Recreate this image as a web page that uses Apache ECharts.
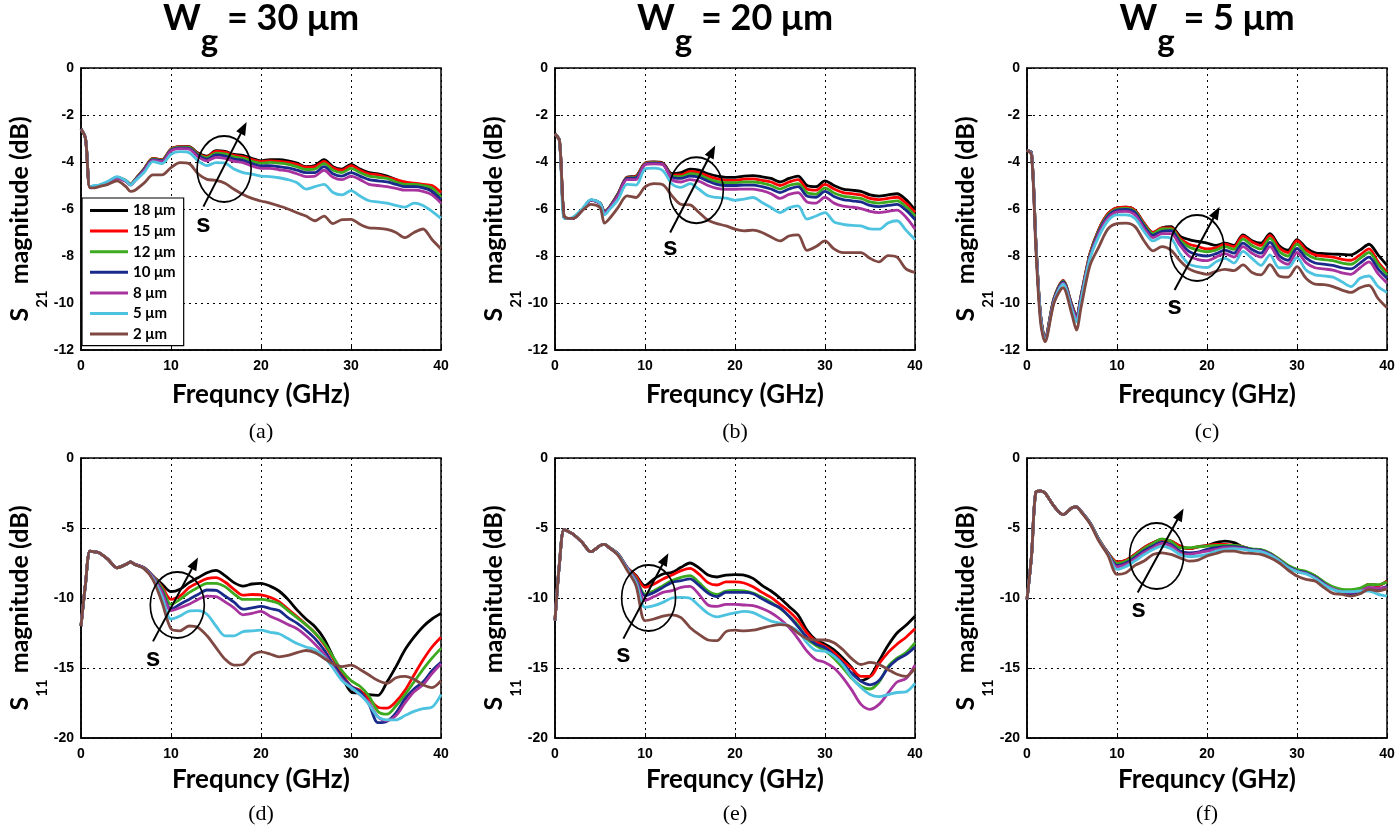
<!DOCTYPE html>
<html>
<head>
<meta charset="utf-8">
<title>S21 / S11 magnitude vs frequency</title>
<script src="https://cdn.jsdelivr.net/npm/echarts@6/dist/echarts.min.js"></script>
<style>
  html, body { margin: 0; padding: 0; background: #fff; }
  #chart { width: 1400px; height: 837px; }
</style>
</head>
<body>
<div id="chart"></div>
<script>
// frequency samples (GHz), shared by every curve
const FREQ = [0, 0.5, 1, 1.5, 2, 3, 4, 5, 5.5,
  6, 7, 8, 9, 10, 11, 12, 13, 14, 15,
  16, 17, 18, 19, 20, 21, 22, 23, 24, 25,
  26, 27, 28, 29, 30, 31, 32, 33, 34, 35,
  36, 37, 38, 39, 40];

const SPACINGS = ['18 μm', '15 μm', '12 μm', '10 μm', '8 μm', '5 μm', '2 μm'];
const COLORS = ['#000000', '#ff0000', '#3caa1e', '#1a2a8c', '#a8329e', '#4ec3e0', '#7f4842'];

const WG_TITLES = ['30 μm', '20 μm', '5 μm'];
const CAPTIONS = ['(a)', '(b)', '(c)', '(d)', '(e)', '(f)'];
const X_TICKS = [0, 10, 20, 30, 40];
const S21_TICKS = [-12, -10, -8, -6, -4, -2, 0];
const S11_TICKS = [-20, -15, -10, -5, 0];

// (a) S21, Wg = 30 μm
const a18 = [-2.6, -3.0, -5.05, -5.05, -5.0, -4.85, -4.65, -4.8, -4.95,
  -4.75, -4.3, -3.85, -3.9, -3.45, -3.35, -3.35, -3.62, -3.75, -3.52,
  -3.55, -3.68, -3.72, -3.85, -3.95, -3.9, -3.9, -3.95, -4.05, -4.2,
  -4.15, -3.9, -4.2, -4.3, -4.1, -4.3, -4.45, -4.5, -4.6, -4.75,
  -4.95, -4.95, -5.0, -5.25, -5.65];
const a15 = [-2.6, -3.0, -5.05, -5.05, -5.0, -4.85, -4.65, -4.8, -4.95,
  -4.75, -4.3, -3.85, -3.9, -3.45, -3.35, -3.36, -3.65, -3.78, -3.55,
  -3.58, -3.72, -3.78, -3.9, -3.98, -3.95, -3.97, -4.02, -4.1, -4.22,
  -4.2, -3.97, -4.25, -4.35, -4.15, -4.35, -4.5, -4.55, -4.65, -4.75,
  -4.85, -4.9, -4.95, -5.0, -5.3];
const a12 = [-2.6, -3.0, -5.05, -5.05, -5.0, -4.85, -4.66, -4.8, -4.95,
  -4.76, -4.32, -3.87, -3.92, -3.47, -3.37, -3.38, -3.68, -3.82, -3.62,
  -3.65, -3.78, -3.84, -3.97, -4.05, -4.02, -4.05, -4.1, -4.2, -4.32,
  -4.3, -4.07, -4.35, -4.45, -4.27, -4.45, -4.6, -4.65, -4.7, -4.85,
  -4.95, -4.95, -5.0, -5.1, -5.5];
const a10 = [-2.6, -3.0, -5.06, -5.06, -5.0, -4.86, -4.67, -4.82, -4.97,
  -4.78, -4.34, -3.9, -3.95, -3.5, -3.4, -3.42, -3.72, -3.88, -3.7,
  -3.75, -3.88, -3.93, -4.07, -4.17, -4.15, -4.2, -4.25, -4.35, -4.45,
  -4.45, -4.2, -4.5, -4.6, -4.45, -4.6, -4.75, -4.8, -4.85, -4.95,
  -5.05, -5.05, -5.1, -5.25, -5.6];
const a8 = [-2.6, -3.0, -5.07, -5.07, -5.01, -4.87, -4.68, -4.83, -4.98,
  -4.8, -4.37, -3.93, -3.98, -3.53, -3.43, -3.45, -3.78, -3.95, -3.8,
  -3.85, -3.97, -4.03, -4.17, -4.27, -4.27, -4.33, -4.38, -4.5, -4.62,
  -4.6, -4.35, -4.65, -4.75, -4.6, -4.75, -4.95, -5.0, -5.05, -5.12,
  -5.2, -5.2, -5.25, -5.4, -5.75];
const a5 = [-2.6, -3.0, -5.05, -5.0, -4.98, -4.82, -4.62, -4.8, -4.98,
  -4.8, -4.45, -3.98, -4.07, -3.67, -3.56, -3.6, -3.95, -4.15, -4.03,
  -4.05, -4.3, -4.45, -4.52, -4.6, -4.62, -4.67, -4.75, -4.88, -5.15,
  -5.05, -4.95, -5.3, -5.4, -5.22, -5.45, -5.65, -5.7, -5.75, -5.85,
  -5.92, -5.75, -5.85, -6.1, -6.4];
const a2 = [-2.6, -3.0, -5.1, -5.1, -5.05, -4.95, -4.8, -5.05, -5.25,
  -5.2, -4.9, -4.55, -4.55, -4.24, -4.03, -4.07, -4.5, -4.74, -4.78,
  -4.9, -5.16, -5.38, -5.55, -5.66, -5.75, -5.87, -6.0, -6.16, -6.3,
  -6.5, -6.3, -6.62, -6.45, -6.44, -6.65, -6.8, -6.82, -6.87, -7.0,
  -7.22, -7.0, -6.85, -7.3, -7.7];

// (b) S21, Wg = 20 μm
const b18 = [-2.8, -3.1, -6.35, -6.4, -6.4, -6.05, -5.62, -5.75, -6.1,
  -5.95, -5.35, -4.65, -4.6, -4.05, -4.0, -4.05, -4.5, -4.45, -4.3,
  -4.35, -4.5, -4.6, -4.65, -4.65, -4.6, -4.58, -4.63, -4.7, -4.85,
  -4.7, -4.6, -5.0, -5.05, -4.8, -5.0, -5.15, -5.2, -5.25, -5.4,
  -5.45, -5.4, -5.35, -5.6, -6.05];
const b15 = [-2.8, -3.1, -6.35, -6.4, -6.4, -6.05, -5.62, -5.75, -6.1,
  -5.95, -5.36, -4.66, -4.62, -4.06, -4.01, -4.07, -4.55, -4.55, -4.4,
  -4.45, -4.6, -4.72, -4.78, -4.78, -4.73, -4.72, -4.78, -4.85, -5.0,
  -4.85, -4.75, -5.15, -5.2, -4.95, -5.15, -5.3, -5.35, -5.4, -5.55,
  -5.6, -5.55, -5.5, -5.75, -6.15];
const b12 = [-2.8, -3.1, -6.35, -6.4, -6.4, -6.05, -5.62, -5.75, -6.1,
  -5.96, -5.38, -4.68, -4.65, -4.08, -4.03, -4.09, -4.6, -4.62, -4.5,
  -4.55, -4.72, -4.83, -4.88, -4.88, -4.85, -4.85, -4.9, -5.0, -5.15,
  -5.0, -4.92, -5.3, -5.37, -5.1, -5.32, -5.45, -5.5, -5.55, -5.7,
  -5.75, -5.7, -5.65, -5.9, -6.3];
const b10 = [-2.8, -3.1, -6.35, -6.4, -6.4, -6.05, -5.62, -5.76, -6.12,
  -5.97, -5.4, -4.7, -4.68, -4.1, -4.05, -4.1, -4.65, -4.7, -4.6,
  -4.65, -4.82, -4.95, -5.0, -5.0, -4.98, -4.98, -5.05, -5.15, -5.3,
  -5.15, -5.05, -5.45, -5.5, -5.25, -5.47, -5.6, -5.65, -5.7, -5.85,
  -5.9, -5.85, -5.8, -6.05, -6.45];
const b8 = [-2.8, -3.1, -6.36, -6.4, -6.4, -6.05, -5.63, -5.77, -6.15,
  -6.0, -5.45, -4.75, -4.75, -4.12, -4.08, -4.12, -4.75, -4.85, -4.75,
  -4.82, -5.0, -5.12, -5.16, -5.16, -5.15, -5.15, -5.22, -5.35, -5.55,
  -5.38, -5.3, -5.7, -5.75, -5.5, -5.75, -5.88, -5.92, -5.98, -6.1,
  -6.15, -6.1, -6.05, -6.35, -6.85];
const b5 = [-2.8, -3.1, -6.4, -6.4, -6.35, -6.0, -5.6, -5.75, -6.25,
  -6.05, -5.6, -4.95, -4.98, -4.3, -4.26, -4.37, -4.94, -5.08, -4.92,
  -5.16, -5.44, -5.51, -5.54, -5.63, -5.58, -5.51, -5.72, -5.94, -6.15,
  -5.95, -5.87, -6.43, -6.3, -6.15, -6.55, -6.65, -6.7, -6.72, -6.85,
  -6.86, -6.6, -6.5, -6.9, -7.3];
const b2 = [-2.8, -3.1, -6.3, -6.4, -6.4, -6.08, -5.8, -5.94, -6.6,
  -6.43, -5.94, -5.44, -5.51, -5.06, -4.92, -4.97, -5.44, -5.8, -5.82,
  -6.15, -6.48, -6.62, -6.72, -6.86, -6.93, -6.9, -7.0, -7.19, -7.36,
  -7.15, -7.1, -7.76, -7.6, -7.36, -7.7, -7.86, -7.86, -7.86, -8.1,
  -8.25, -7.98, -8.05, -8.55, -8.7];

// (c) S21, Wg = 5 μm
const c18 = [-3.5, -3.6, -7.5, -10.5, -11.5, -9.8, -9.05, -10.1, -10.55,
  -9.7, -7.9, -6.85, -6.2, -5.95, -5.92, -6.05, -6.6, -7.0, -6.8,
  -6.75, -7.15, -7.3, -7.38, -7.45, -7.55, -7.45, -7.55, -7.1, -7.35,
  -7.45, -7.05, -7.55, -7.75, -7.3, -7.65, -7.86, -7.9, -7.92, -7.93,
  -7.95, -7.75, -7.5, -7.95, -8.4];
const c15 = [-3.5, -3.6, -7.5, -10.5, -11.5, -9.8, -9.05, -10.1, -10.55,
  -9.7, -7.9, -6.85, -6.2, -5.95, -5.92, -6.05, -6.6, -7.0, -6.8,
  -6.8, -7.25, -7.5, -7.6, -7.7, -7.65, -7.5, -7.6, -7.15, -7.4,
  -7.55, -7.12, -7.65, -7.85, -7.35, -7.75, -7.95, -8.0, -8.05, -8.14,
  -8.18, -7.95, -7.7, -8.25, -8.7];
const c12 = [-3.5, -3.6, -7.5, -10.5, -11.5, -9.82, -9.07, -10.12, -10.57,
  -9.72, -7.95, -6.9, -6.25, -6.0, -5.97, -6.1, -6.65, -7.05, -6.85,
  -6.85, -7.32, -7.62, -7.75, -7.82, -7.75, -7.6, -7.72, -7.28, -7.55,
  -7.7, -7.25, -7.8, -8.0, -7.5, -7.9, -8.1, -8.15, -8.2, -8.3,
  -8.35, -8.1, -7.85, -8.35, -8.8];
const c10 = [-3.5, -3.6, -7.52, -10.52, -11.52, -9.85, -9.1, -10.15, -10.6,
  -9.75, -8.0, -6.95, -6.3, -6.05, -6.02, -6.15, -6.72, -7.12, -6.95,
  -6.92, -7.42, -7.8, -7.95, -8.0, -7.9, -7.75, -7.88, -7.45, -7.72,
  -7.88, -7.42, -7.98, -8.18, -7.68, -8.08, -8.3, -8.35, -8.4, -8.5,
  -8.55, -8.3, -8.05, -8.55, -8.95];
const c8 = [-3.5, -3.62, -7.55, -10.55, -11.55, -9.9, -9.15, -10.2, -10.65,
  -9.8, -8.05, -7.02, -6.38, -6.12, -6.1, -6.25, -6.82, -7.22, -7.05,
  -7.05, -7.55, -8.0, -8.15, -8.2, -8.05, -7.9, -8.05, -7.6, -7.88,
  -8.05, -7.6, -8.15, -8.35, -7.85, -8.28, -8.5, -8.55, -8.6, -8.72,
  -8.78, -8.5, -8.25, -8.75, -9.15];
const c5 = [-3.5, -3.65, -7.6, -10.6, -11.6, -9.95, -9.2, -10.3, -10.8,
  -9.9, -8.1, -7.15, -6.5, -6.25, -6.25, -6.4, -6.95, -7.36, -7.2,
  -7.25, -7.9, -8.35, -8.45, -8.49, -8.25, -8.1, -8.3, -7.8, -8.1,
  -8.4, -7.95, -8.5, -8.5, -8.07, -8.6, -8.8, -8.85, -8.9, -9.1,
  -9.3, -8.95, -8.85, -9.3, -9.55];
const c2 = [-3.5, -3.7, -7.8, -10.8, -11.65, -10.0, -9.35, -10.5, -11.15,
  -10.2, -8.4, -7.6, -6.85, -6.62, -6.6, -6.75, -7.35, -7.78, -7.6,
  -7.75, -8.2, -8.55, -8.7, -8.78, -8.65, -8.57, -8.62, -8.38, -8.7,
  -8.8, -8.37, -8.85, -8.9, -8.45, -8.95, -9.2, -9.22, -9.3, -9.45,
  -9.55, -9.35, -9.25, -9.8, -10.2];

// (d) S11, Wg = 30 μm
const d18 = [-12.0, -9.0, -6.65, -6.7, -6.77, -7.24, -7.84, -7.6, -7.43,
  -7.6, -7.84, -8.45, -9.0, -9.55, -9.38, -8.9, -8.55, -8.2, -8.03,
  -8.4, -8.9, -9.15, -9.0, -8.95, -9.15, -9.5, -10.1, -10.85, -11.5,
  -12.05, -12.9, -14.2, -15.6, -16.7, -16.8, -16.9, -16.95, -16.0, -14.9,
  -13.7, -12.8, -12.05, -11.5, -11.1];
const d15 = [-12.0, -9.0, -6.65, -6.7, -6.77, -7.24, -7.84, -7.6, -7.43,
  -7.6, -7.84, -8.45, -9.2, -10.1, -9.86, -9.26, -8.91, -8.62, -8.55,
  -8.86, -9.38, -9.8, -9.75, -9.78, -9.95, -10.26, -10.8, -11.33, -11.9,
  -12.5, -13.3, -14.3, -15.4, -16.3, -16.6, -17.2, -17.8, -17.87, -17.4,
  -16.6, -15.5, -14.43, -13.5, -12.8];
const d12 = [-12.0, -9.0, -6.65, -6.7, -6.77, -7.24, -7.84, -7.6, -7.43,
  -7.6, -7.84, -8.45, -9.3, -10.45, -10.1, -9.62, -9.25, -8.95, -8.95,
  -9.19, -9.7, -10.1, -10.1, -10.1, -10.2, -10.4, -10.9, -11.4, -11.9,
  -12.5, -13.2, -14.2, -15.2, -15.9, -16.3, -17.0, -18.1, -18.3, -17.7,
  -16.9, -16.0, -15.1, -14.3, -13.6];
const d10 = [-12.0, -9.0, -6.65, -6.7, -6.77, -7.24, -7.84, -7.6, -7.43,
  -7.6, -7.85, -8.47, -9.5, -10.8, -10.45, -10.1, -9.75, -9.43, -9.45,
  -9.86, -10.3, -10.8, -10.7, -10.6, -10.75, -10.9, -11.4, -11.8, -12.3,
  -12.9, -13.7, -14.7, -15.6, -16.3, -16.7, -17.6, -18.9, -18.8, -18.2,
  -17.2, -16.5, -16.0, -15.2, -14.6];
const d8 = [-12.0, -9.0, -6.65, -6.7, -6.77, -7.24, -7.84, -7.6, -7.43,
  -7.6, -7.86, -8.5, -9.6, -10.9, -10.7, -10.45, -10.1, -9.86, -9.9,
  -10.28, -10.7, -11.2, -11.1, -10.95, -11.3, -11.57, -11.9, -12.2, -12.7,
  -13.3, -14.0, -14.9, -15.8, -16.4, -16.9, -17.5, -18.5, -18.75, -18.4,
  -17.5, -16.7, -16.2, -15.4, -14.7];
const d5 = [-12.0, -9.0, -6.65, -6.7, -6.77, -7.24, -7.84, -7.6, -7.43,
  -7.62, -7.9, -8.6, -9.9, -11.5, -11.28, -10.93, -10.9, -11.16, -12.0,
  -12.7, -12.7, -12.4, -12.35, -12.3, -12.45, -12.55, -12.9, -13.25, -13.5,
  -13.7, -14.2, -15.0, -15.9, -16.4, -16.9, -17.6, -18.5, -18.7, -18.7,
  -18.4, -18.1, -17.9, -17.8, -16.9];
const d2 = [-12.0, -9.0, -6.65, -6.7, -6.77, -7.24, -7.84, -7.6, -7.43,
  -7.62, -7.9, -8.7, -10.3, -12.2, -12.35, -12.0, -12.1, -12.7, -13.54,
  -14.37, -14.8, -14.75, -14.1, -13.85, -14.0, -14.2, -14.1, -13.9, -13.75,
  -13.9, -14.3, -14.7, -14.9, -14.8, -15.1, -15.5, -15.9, -16.1, -15.7,
  -15.6, -15.8, -16.2, -16.4, -15.9];

// (e) S11, Wg = 20 μm
const e18 = [-11.6, -7.5, -5.12, -5.25, -5.43, -6.02, -6.69, -6.26, -6.17,
  -6.38, -6.86, -7.81, -8.4, -9.12, -8.64, -8.29, -8.17, -7.81, -7.5,
  -7.85, -8.36, -8.5, -8.36, -8.33, -8.36, -8.6, -9.1, -9.5, -10.0,
  -10.6, -11.2, -12.3, -13.0, -13.3, -13.7, -14.3, -15.0, -15.9, -15.6,
  -14.5, -13.4, -12.5, -11.95, -11.3];
const e15 = [-11.6, -7.5, -5.12, -5.25, -5.43, -6.02, -6.69, -6.26, -6.17,
  -6.38, -6.86, -7.81, -8.45, -9.24, -9.0, -8.64, -8.35, -8.05, -7.88,
  -8.3, -8.9, -9.07, -8.85, -8.85, -8.93, -9.2, -9.6, -9.95, -10.45,
  -10.95, -11.6, -12.5, -13.1, -13.45, -13.9, -14.5, -15.05, -15.6, -15.6,
  -14.7, -13.9, -13.3, -12.8, -12.2];
const e12 = [-11.6, -7.5, -5.12, -5.25, -5.43, -6.02, -6.69, -6.26, -6.17,
  -6.38, -6.86, -7.82, -8.6, -9.71, -9.48, -9.12, -8.76, -8.52, -8.4,
  -8.9, -9.5, -9.75, -9.5, -9.45, -9.5, -9.65, -9.95, -10.3, -10.75,
  -11.3, -11.95, -12.9, -13.4, -13.75, -14.3, -15.0, -15.75, -16.3, -16.5,
  -16.0, -14.9, -14.3, -13.9, -13.2];
const e10 = [-11.6, -7.5, -5.12, -5.25, -5.43, -6.02, -6.69, -6.26, -6.17,
  -6.39, -6.87, -7.83, -8.7, -9.83, -9.6, -9.24, -8.88, -8.76, -8.64,
  -9.1, -9.65, -9.9, -9.6, -9.6, -9.6, -9.7, -10.05, -10.4, -10.7,
  -11.3, -12.05, -12.8, -13.3, -13.55, -14.1, -14.7, -15.4, -15.95, -16.2,
  -15.9, -15.0, -14.4, -14.05, -13.5];
const e8 = [-11.6, -7.5, -5.12, -5.25, -5.43, -6.02, -6.69, -6.26, -6.17,
  -6.4, -6.88, -7.85, -8.75, -10.19, -9.9, -9.6, -9.48, -9.24, -9.17,
  -9.75, -10.5, -10.6, -10.45, -10.45, -10.5, -10.55, -10.75, -11.05, -11.5,
  -12.1, -12.9, -13.8, -14.4, -14.6, -15.0, -15.7, -16.6, -17.6, -17.95,
  -17.6, -16.8, -16.0, -15.75, -14.8];
const e5 = [-11.6, -7.5, -5.12, -5.25, -5.43, -6.02, -6.69, -6.26, -6.17,
  -6.4, -6.9, -7.9, -8.9, -10.67, -10.55, -10.31, -10.0, -9.95, -10.02,
  -10.55, -11.1, -11.35, -11.2, -11.07, -10.95, -11.05, -11.35, -11.65, -11.8,
  -12.0, -12.35, -13.2, -13.75, -13.8, -14.15, -14.8, -15.7, -16.4, -16.9,
  -17.05, -16.9, -16.75, -16.7, -16.1];
const e2 = [-11.6, -7.5, -5.12, -5.25, -5.43, -6.02, -6.69, -6.26, -6.17,
  -6.4, -6.95, -8.0, -9.12, -11.62, -11.5, -11.3, -11.2, -11.4, -12.1,
  -12.6, -13.0, -13.05, -12.4, -12.3, -12.35, -12.3, -12.15, -12.0, -11.9,
  -12.0, -12.5, -12.9, -13.0, -13.0, -13.2, -13.7, -14.35, -14.75, -14.6,
  -14.75, -15.1, -15.45, -15.6, -15.0];

// (f) S11, Wg = 5 μm
const f18 = [-10.1, -7.0, -2.4, -2.35, -2.5, -3.44, -4.04, -3.56, -3.49,
  -3.8, -4.63, -5.82, -6.77, -7.43, -7.3, -6.89, -6.41, -6.06, -5.82,
  -5.94, -6.29, -6.48, -6.34, -6.25, -6.05, -5.94, -6.05, -6.34, -6.53,
  -6.58, -6.82, -7.24, -7.72, -8.0, -8.15, -8.43, -8.91, -9.26, -9.43,
  -9.45, -9.35, -9.03, -9.1, -8.79];
const f15 = [-10.1, -7.0, -2.4, -2.35, -2.5, -3.44, -4.04, -3.56, -3.49,
  -3.8, -4.63, -5.82, -6.77, -7.43, -7.3, -6.89, -6.41, -6.06, -5.82,
  -5.94, -6.29, -6.48, -6.34, -6.25, -6.18, -6.18, -6.25, -6.34, -6.53,
  -6.58, -6.82, -7.24, -7.72, -8.0, -8.15, -8.43, -8.91, -9.26, -9.43,
  -9.45, -9.35, -9.03, -9.1, -8.79];
const f12 = [-10.1, -7.0, -2.4, -2.35, -2.5, -3.44, -4.04, -3.56, -3.49,
  -3.8, -4.63, -5.83, -6.8, -7.53, -7.38, -6.95, -6.48, -6.1, -5.77,
  -5.94, -6.41, -6.41, -6.34, -6.29, -6.25, -6.25, -6.25, -6.34, -6.5,
  -6.55, -6.8, -7.2, -7.65, -7.95, -8.1, -8.4, -8.85, -9.2, -9.38,
  -9.4, -9.3, -9.03, -9.05, -8.86];
const f10 = [-10.1, -7.0, -2.4, -2.35, -2.5, -3.44, -4.04, -3.56, -3.49,
  -3.81, -4.64, -5.85, -6.83, -7.67, -7.5, -7.1, -6.62, -6.29, -6.01,
  -6.18, -6.65, -6.77, -6.72, -6.53, -6.41, -6.34, -6.34, -6.41, -6.55,
  -6.6, -6.85, -7.28, -7.75, -8.05, -8.2, -8.5, -8.95, -9.35, -9.6,
  -9.74, -9.6, -9.26, -9.33, -9.19];
const f8 = [-10.1, -7.0, -2.4, -2.35, -2.5, -3.44, -4.04, -3.56, -3.49,
  -3.82, -4.65, -5.86, -6.86, -7.77, -7.6, -7.2, -6.75, -6.41, -6.1,
  -6.29, -6.77, -6.89, -6.77, -6.65, -6.53, -6.41, -6.41, -6.48, -6.6,
  -6.65, -6.9, -7.3, -7.8, -8.1, -8.25, -8.55, -9.0, -9.35, -9.55,
  -9.6, -9.5, -9.26, -9.3, -9.26];
const f5 = [-10.1, -7.0, -2.4, -2.35, -2.5, -3.44, -4.04, -3.56, -3.49,
  -3.83, -4.66, -5.88, -6.9, -7.96, -7.75, -7.35, -6.9, -6.53, -6.29,
  -6.48, -6.89, -7.05, -7.0, -6.89, -6.65, -6.53, -6.48, -6.53, -6.62,
  -6.68, -6.92, -7.33, -7.82, -8.12, -8.28, -8.6, -9.05, -9.4, -9.55,
  -9.55, -9.5, -9.5, -9.74, -9.86];
const f2 = [-10.1, -7.0, -2.4, -2.35, -2.5, -3.44, -4.04, -3.56, -3.49,
  -3.85, -4.7, -5.95, -6.95, -8.31, -8.19, -7.67, -7.36, -6.89, -6.77,
  -6.89, -7.13, -7.36, -7.29, -7.0, -6.82, -6.65, -6.65, -6.77, -6.82,
  -6.89, -7.13, -7.48, -8.0, -8.43, -8.67, -8.79, -9.26, -9.67, -9.74,
  -9.86, -9.7, -9.38, -9.5, -9.33];

const PANEL_CURVES = [
  [a18, a15, a12, a10, a8, a5, a2],
  [b18, b15, b12, b10, b8, b5, b2],
  [c18, c15, c12, c10, c8, c5, c2],
  [d18, d15, d12, d10, d8, d5, d2],
  [e18, e15, e12, e10, e8, e5, e2],
  [f18, f15, f12, f10, f8, f5, f2]
];

// "s" annotation in data coordinates of each panel
const ELLIPSE_AT = [[15.9, -4.3], [15.7, -5.2], [18.9, -7.66], [10.7, -10.5], [10.4, -10.0], [14.4, -7.0]];
const ARROW_FROM = [[13.6, -5.9], [12.8, -7.0], [16.4, -9.45], [8.0, -13.1], [7.6, -12.9], [12.3, -9.6]];
const ARROW_TO = [[18.4, -2.3], [17.8, -3.3], [21.4, -5.9], [13.0, -7.1], [12.6, -6.8], [17.4, -3.6]];
const S_LABEL_AT = [[13.6, -6.7], [12.8, -7.7], [16.4, -10.2], [8.0, -14.4], [7.6, -14.1], [12.4, -10.9]];

const chart = echarts.init(document.getElementById('chart'));

const colLeft = [81, 555, 1027];
const rowTop = [68, 458];
const rowHeight = [282, 280];
const plotWidth = 360;

const grids = [];
const xAxes = [];
const yAxes = [];
const series = [];

for (let i = 0; i < 6; i++) {
    const col = i % 3;
    const row = Math.floor(i / 3);
    const yTicks = row === 0 ? S21_TICKS : S11_TICKS;

    grids.push({
        left: colLeft[col],
        top: rowTop[row],
        width: plotWidth,
        height: rowHeight[row],
        show: true,
        borderColor: '#000',
        borderWidth: 1.5,
        backgroundColor: '#fff',
    });

    xAxes.push({
        gridIndex: i,
        type: 'value',
        min: X_TICKS[0],
        max: X_TICKS[X_TICKS.length - 1],
        interval: X_TICKS[1] - X_TICKS[0],
        name: 'Frequncy (GHz)',
        nameLocation: 'middle',
        nameGap: row === 0 ? 32 : 29,
        nameTextStyle: { fontFamily: 'Lato', fontWeight: 'bold', fontSize: 26, color: '#000' },
        axisLine: { onZero: false, lineStyle: { color: '#000', width: 1.5 } },
        axisTick: { inside: true, length: 5, lineStyle: { color: '#000' } },
        axisLabel: { color: '#000', fontFamily: 'Liberation Sans', fontWeight: 'bold', fontSize: 14, margin: 9 },
        splitLine: { show: true, lineStyle: { color: '#000', type: [2, 4], width: 1 } },
    });

    yAxes.push({
        gridIndex: i,
        type: 'value',
        min: yTicks[0],
        max: yTicks[yTicks.length - 1],
        interval: yTicks[1] - yTicks[0],
        axisLine: { onZero: false, lineStyle: { color: '#000', width: 1.5 } },
        axisTick: { inside: true, length: 5, lineStyle: { color: '#000' } },
        axisLabel: { color: '#000', fontFamily: 'Liberation Sans', fontWeight: 'bold', fontSize: 14, margin: 7 },
        splitLine: { show: true, lineStyle: { color: '#000', type: [2, 4], width: 1 } },
    });

    PANEL_CURVES[i].forEach((curve, k) => {
        series.push({
            type: 'line',
            name: SPACINGS[k],
            xAxisIndex: i,
            yAxisIndex: i,
            data: FREQ.map((f, j) => [f, curve[j]]),
            symbol: 'none',
            smooth: 0.3,
            lineStyle: { width: 2.8, color: COLORS[k] },
            itemStyle: { color: COLORS[k] },
            emphasis: { disabled: true },
        });
    });
}

chart.setOption({
    animation: false,
    backgroundColor: '#fff',
    grid: grids,
    xAxis: xAxes,
    yAxis: yAxes,
    series: series,
    legend: {
        data: SPACINGS,
        orient: 'vertical',
        left: 82,
        top: 198,
        padding: [5, 8, 4, 8],
        icon: 'rect',
        itemWidth: 38,
        itemHeight: 3,
        itemGap: 5.6,
        backgroundColor: '#fff',
        borderColor: '#000',
        borderWidth: 1.2,
        textStyle: { fontFamily: 'Lato', fontWeight: 'bold', fontSize: 15, lineHeight: 14, color: '#000' },
        selectedMode: false,
    },
});

// titles, axis names, captions and the "s" annotations
const graphics = [];
const boldLato = (size, lh, va) => ({ fontFamily: 'Lato', fontWeight: 'bold', fontSize: size, lineHeight: lh, verticalAlign: va, fill: '#000' });

for (let col = 0; col < 3; col++) {
    const cx = colLeft[col] + plotWidth / 2;
    graphics.push({
        type: 'text', x: cx, y: 0, z: 10,
        style: {
            text: '{w|W}{g|g}{w| = ' + WG_TITLES[col] + '}',
            rich: { w: boldLato(36, 40, 'top'), g: boldLato(33, 82, 'middle') },
            align: 'center', verticalAlign: 'top', textAlign: 'center', textVerticalAlign: 'top',
        },
    });
}

for (let i = 0; i < 6; i++) {
    const col = i % 3;
    const row = Math.floor(i / 3);
    const sub = row === 0 ? '21' : '11';
    graphics.push({
        type: 'text',
        x: colLeft[col] - 39,
        y: rowTop[row] + rowHeight[row] / 2 + 10,
        rotation: Math.PI / 2,
        z: 10,
        style: {
            text: '{m|S}{s|' + sub + '}{m| magnitude (dB)}',
            rich: { m: boldLato(25, 30, 'top'), s: boldLato(15, 70, 'middle') },
            align: 'center', verticalAlign: 'middle', textAlign: 'center', textVerticalAlign: 'middle',
        },
    });
    graphics.push({
        type: 'text',
        x: colLeft[col] + plotWidth / 2,
        y: row === 0 ? 432 : 814,
        z: 10,
        style: {
            text: CAPTIONS[i],
            fontFamily: 'Liberation Serif', fontSize: 22, fill: '#000',
            align: 'center', verticalAlign: 'middle', textAlign: 'center', textVerticalAlign: 'middle',
        },
    });

    // annotation: ellipse, arrow and the letter s
    const c = chart.convertToPixel({ gridIndex: i }, ELLIPSE_AT[i]);
    const p1 = chart.convertToPixel({ gridIndex: i }, ARROW_FROM[i]);
    const p2 = chart.convertToPixel({ gridIndex: i }, ARROW_TO[i]);
    const sp = chart.convertToPixel({ gridIndex: i }, S_LABEL_AT[i]);
    const dx = p2[0] - p1[0];
    const dy = p2[1] - p1[1];
    const len = Math.sqrt(dx * dx + dy * dy);
    const ux = dx / len;
    const uy = dy / len;
    const head = 13;
    const half = 5;
    const bx = p2[0] - ux * head;
    const by = p2[1] - uy * head;

    graphics.push({
        type: 'circle', x: c[0], y: c[1], scaleX: 27 / 33, z: 20,
        shape: { cx: 0, cy: 0, r: 33 },
        style: { fill: 'none', stroke: '#000', lineWidth: 2, strokeNoScale: true },
    });
    graphics.push({
        type: 'line', z: 20,
        shape: { x1: p1[0], y1: p1[1], x2: bx + ux * 2, y2: by + uy * 2 },
        style: { stroke: '#000', lineWidth: 2 },
    });
    graphics.push({
        type: 'polygon', z: 20,
        shape: { points: [[p2[0], p2[1]], [bx - uy * half, by + ux * half], [bx + uy * half, by - ux * half]] },
        style: { fill: '#000' },
    });
    graphics.push({
        type: 'text', x: sp[0], y: sp[1], z: 20,
        style: {
            text: 's', fontFamily: 'Liberation Mono', fontWeight: 'bold', fontSize: 26, fill: '#000',
            align: 'center', verticalAlign: 'middle', textAlign: 'center', textVerticalAlign: 'middle',
        },
    });
}

chart.setOption({ graphic: graphics });
</script>
</body>
</html>
